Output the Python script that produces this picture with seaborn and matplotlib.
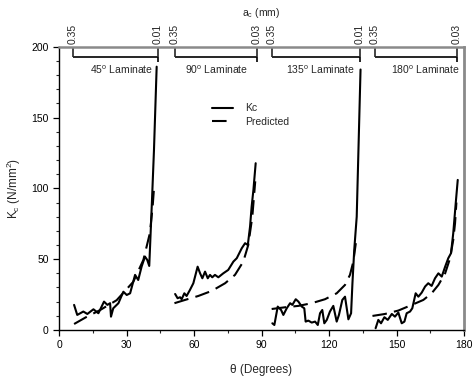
import numpy as np
import pandas as pd
import matplotlib
matplotlib.use("Agg")
import matplotlib.pyplot as plt
import seaborn as sns

# values (theta in degrees, Kc in N/mm^2)
theta_45 = [6.7, 8.1, 10.8, 12.6, 15.3, 17.5, 20.0, 21.5, 22.7, 23.1, 24.1, 26.4, 28.6, 30.1,
            31.6, 33.8, 35.2, 36.7, 38.2, 39.2, 40.1, 41.2, 42.2, 43.4]
kc_45 = [17.7, 10.6, 13.0, 11.3, 14.6, 11.8, 20.0, 17.7, 18.9, 9.4, 15.3, 18.9, 27.0, 24.7,
         25.9, 38.9, 35.3, 44.7, 51.8, 49.5, 45.2, 87.0, 127.0, 186.0]
theta_45p = [6.7, 12.0, 18.2, 25.6, 33.0, 37.5, 40.4, 41.6, 42.2]
pred_45 = [4.2, 9.0, 14.0, 21.0, 34.0, 49.5, 68.5, 87.0, 100.0]

theta_90 = [51.6, 52.7, 53.8, 54.5, 55.7, 56.7, 58.2, 59.7, 61.6, 62.7, 63.7, 64.9, 66.1, 67.1,
            68.1, 69.3, 70.8, 73.0, 75.2, 77.5, 79.0, 81.2, 82.7, 83.9, 84.9, 85.6, 86.4, 87.4]
kc_90 = [25.4, 22.4, 23.1, 21.7, 25.9, 24.0, 28.3, 33.0, 44.7, 40.0, 36.5, 41.2, 36.5, 38.9,
         37.2, 38.9, 37.2, 40.0, 42.4, 48.3, 50.7, 57.7, 61.3, 60.0, 73.0, 87.0, 99.0, 117.8]
theta_90p = [51.3, 56.0, 61.9, 67.9, 73.8, 78.2, 81.9, 84.1, 85.9, 87.2]
pred_90 = [18.9, 21.2, 24.0, 27.6, 33.0, 38.9, 48.3, 60.0, 80.0, 105.0]

theta_135 = [94.8, 95.7, 97.2, 98.7, 99.7, 101.2, 102.7, 103.7, 105.2, 106.4, 107.9, 109.0,
             109.6, 110.8, 112.3, 113.8, 115.0, 116.0, 117.0, 117.9, 119.0, 120.4, 121.9,
             123.4, 124.4, 125.9, 127.1, 128.6, 129.8, 130.4, 131.2, 132.3, 134.0]
kc_135 = [4.7, 3.5, 16.5, 14.1, 10.6, 15.3, 18.9, 17.7, 21.7, 20.0, 16.5, 15.3,
          5.9, 6.6, 5.2, 5.9, 3.5, 11.8, 14.1, 4.7, 7.1, 13.0, 17.0,
          5.9, 10.6, 21.2, 23.5, 7.5, 11.8, 33.0, 56.5, 80.0, 184.0]
theta_135p = [94.5, 100.4, 106.4, 112.3, 118.2, 123.4, 127.1, 129.3, 130.8, 131.9]
pred_135 = [14.8, 16.0, 17.0, 18.9, 21.7, 25.9, 31.8, 38.9, 48.3, 61.3]

theta_180 = [140.7, 141.9, 143.1, 144.6, 146.1, 147.9, 149.3, 150.8, 152.3, 153.5, 154.5, 156.0,
             157.0, 158.5, 159.7, 161.2, 162.7, 164.1, 165.6, 167.1, 168.6, 170.1, 171.6,
             173.0, 174.2, 175.2, 176.3, 177.2]
kc_180 = [1.2, 7.1, 4.7, 9.0, 7.1, 11.3, 9.4, 12.3, 4.7, 5.9, 11.8, 13.0,
          15.3, 25.9, 23.5, 26.4, 30.7, 33.0, 31.1, 36.5, 40.0, 37.7, 44.7,
          50.7, 54.2, 68.3, 89.5, 106.0]
theta_180p = [139.3, 144.9, 150.8, 156.8, 161.9, 165.6, 168.6, 171.6, 173.8, 175.2, 176.0, 176.6]
pred_180 = [9.9, 11.3, 13.7, 17.7, 21.2, 25.9, 31.8, 40.0, 50.7, 63.6, 75.4, 90.0]

laminates = ["45", "90", "135", "180"]
label_x = [27.6, 70.2, 116.0, 162.7]
top_pos = [6.2, 44.0, 51.6, 88.0, 94.7, 133.8, 140.4, 176.9]
top_labels = ["0.35", "0.01", "0.35", "0.03", "0.35", "0.01", "0.35", "0.03"]

frames = []
for lam, (tx, ky, tp, kp) in zip(laminates, [(theta_45, kc_45, theta_45p, pred_45),
                                             (theta_90, kc_90, theta_90p, pred_90),
                                             (theta_135, kc_135, theta_135p, pred_135),
                                             (theta_180, kc_180, theta_180p, pred_180)]):
    frames.append(pd.DataFrame({"theta": tx, "value": ky, "series": "Kc", "laminate": lam}))
    frames.append(pd.DataFrame({"theta": tp, "value": kp, "series": "Predicted", "laminate": lam}))
df = pd.concat(frames, ignore_index=True)

sns.set_style("ticks")
plt.rcParams["font.family"] = ["Liberation Sans", "DejaVu Sans"]
plt.rcParams["mathtext.fontset"] = "custom"
plt.rcParams["mathtext.rm"] = "Liberation Sans"
plt.rcParams["mathtext.it"] = "Liberation Sans:italic"
fs = 7.5

fig = plt.figure(figsize=(4.74, 3.81), dpi=100)
ax = fig.add_axes([0.1245, 0.134, 0.8545, 0.743])

sns.lineplot(data=df, x="theta", y="value", style="series", units="laminate",
             estimator=None, sort=False, color="black", linewidth=1.5,
             dashes={"Kc": "", "Predicted": (7, 3.5)}, ax=ax)

ax.set_xlim(0, 180)
ax.set_ylim(0, 200)
ax.set_xticks(np.arange(0, 181, 30))
ax.set_xticks(np.arange(0, 181, 15), minor=True)
ax.set_yticks(np.arange(0, 201, 50))
ax.set_yticks(np.arange(0, 201, 10), minor=True)
ax.tick_params(axis="both", which="major", labelsize=fs, length=4, width=0.9, colors="black")
ax.tick_params(axis="both", which="minor", length=2.5, width=0.8)
ax.set_xlabel("θ (Degrees)", fontsize=8.5, labelpad=10)
ax.set_ylabel("K$_\\mathrm{c}$ (N/mm$^2$)", fontsize=8.5, labelpad=6)
for s in ["left", "bottom"]:
    ax.spines[s].set_color("black")
    ax.spines[s].set_linewidth(1.0)
ax.spines["top"].set_visible(False)
ax.spines["right"].set_color("#8a8a8a")
ax.spines["right"].set_linewidth(2.0)

handles, labels = ax.get_legend_handles_labels()
ax.legend(handles=handles, labels=labels, loc="upper left", bbox_to_anchor=(0.366, 0.819),
          frameon=False, fontsize=fs, borderpad=0, handlelength=2.0,
          handletextpad=1.1, labelspacing=0.35)

# brackets for each laminate on the a_c scale
starts = top_pos[0::2]
ends = top_pos[1::2]
ax.hlines([193] * 4, starts, ends, color="black", linewidth=1.2)
ax.vlines(ends, 189, 193, color="black", linewidth=1.2)
for lx, lam in zip(label_x, laminates):
    ax.text(lx, 184, lam + "$^\\mathrm{o}$ Laminate", ha="center", va="center", fontsize=fs)

ax2 = ax.twiny()
ax2.set_xlim(0, 180)
ax2.set_xticks(top_pos)
ax2.set_xticklabels(top_labels, rotation=90, fontsize=fs)
ax2.tick_params(axis="x", direction="in", length=7.5, width=1.2, pad=2)
ax2.set_xlabel("a$_\\mathrm{c}$ (mm)", fontsize=fs, labelpad=6)
for s in ["left", "bottom", "right"]:
    ax2.spines[s].set_visible(False)
ax2.spines["top"].set_color("#8a8a8a")
ax2.spines["top"].set_linewidth(1.8)

fig.savefig("out.png", dpi=100)
